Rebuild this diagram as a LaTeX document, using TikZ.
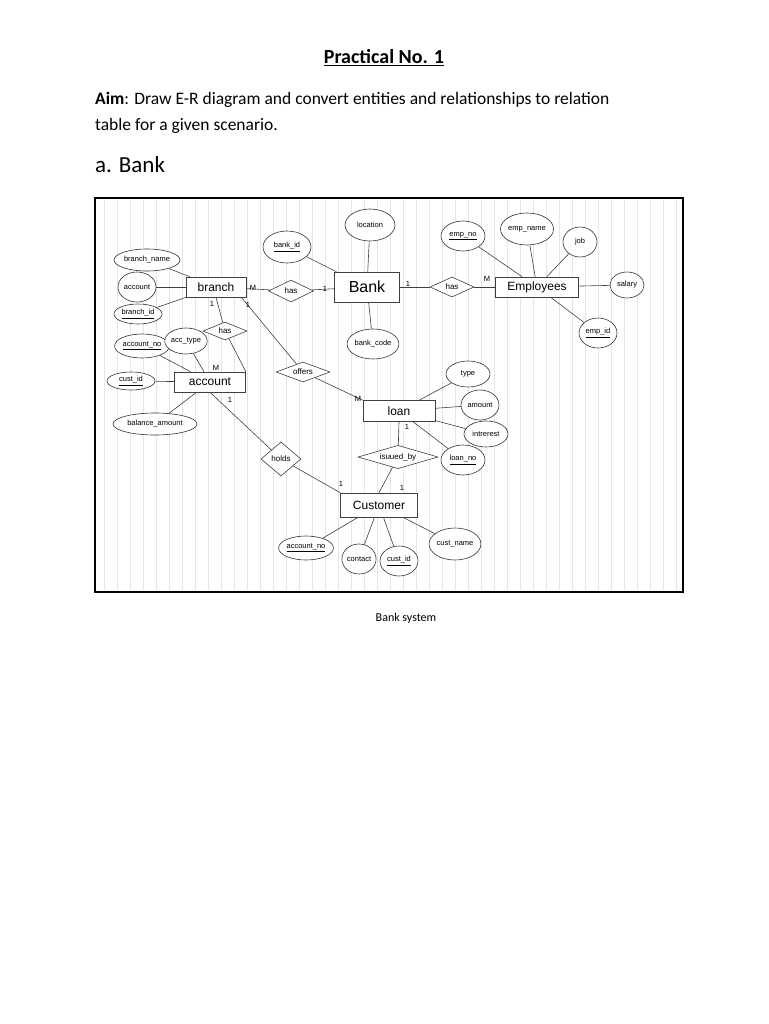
\documentclass[tikz,border=0pt]{standalone}
\usepackage{fontspec}
\setmainfont{Carlito}
\newfontfamily\dfont{Liberation Sans}
\usetikzlibrary{shapes.geometric}
\begin{document}
\begin{tikzpicture}[x=1pt,y=-1pt,
  ent/.style={draw=black!75,fill=white,line width=0.6pt,minimum height=20,inner sep=2,font=\dfont\fontsize{12}{12}\selectfont},
  rel/.style={draw=black!75,fill=white,diamond,aspect=2.3,inner sep=0,line width=0.6pt,font=\dfont\fontsize{8}{8}\selectfont},
  att/.style={draw=black!80,fill=white,ellipse,inner sep=0,line width=0.6pt,font=\dfont\fontsize{7.5}{7.5}\selectfont},
  card/.style={font=\dfont\fontsize{7.5}{7.5}\selectfont,inner sep=0},
  ln/.style={draw=black!75,line width=0.6pt}]
\useasboundingbox (0,0) rectangle (768,1024);
\fill[white] (0,0) rectangle (768,1024);
\node[font=\bfseries\fontsize{20}{20}\selectfont] (title) at (384,58) {\underline{Practical No. 1}};
\node[anchor=west,font=\fontsize{17.5}{17.5}\selectfont,inner sep=0] (aim1) at (95,100) {\textbf{Aim}: Draw E-R diagram and convert entities and relationships to relation};
\node[anchor=west,font=\fontsize{17.5}{17.5}\selectfont,inner sep=0] (aim2) at (95,126) {table for a given scenario.};
\node[anchor=west,font=\fontsize{23}{23}\selectfont,inner sep=0] (sec) at (95,165) {a. Bank};
\node[font=\fontsize{12}{12}\selectfont] (cap) at (406,618) {Bank system};
% frame and grid
\fill[white] (95,198) rectangle (683,592);
\draw[black!10,line width=0.4pt,step=13] (97,200) grid (681,590);
\draw[line width=2.6pt] (95,198) rectangle (683,592);
% entities
\node[ent,minimum width=60] (branch) at (216,287) {branch};
\node[ent,minimum width=65,minimum height=30,font=\dfont\fontsize{16}{16}\selectfont] (bank) at (367,287) {Bank};
\node[ent,minimum width=83] (emp) at (537,287) {Employees};
\node[ent,minimum width=71] (account) at (210,382) {account};
\node[ent,minimum width=72,minimum height=21] (loan) at (399,411) {loan};
\node[ent,minimum width=77,minimum height=24] (cust) at (379,505) {Customer};
% relationships
\node[rel,minimum width=45,minimum height=22] (has1) at (291,291) {has};
\node[rel,minimum width=44,minimum height=20] (has2) at (452,287) {has};
\node[rel,minimum width=44,minimum height=18] (has3) at (225,331) {has};
\node[rel,minimum width=54,minimum height=20] (offers) at (303,372) {offers};
\node[rel,minimum width=40,minimum height=34] (holds) at (281,459) {holds};
\node[rel,minimum width=80,minimum height=18] (issued) at (398,457) {isuued\_by};
% relationship lines
\draw[ln] (branch) -- (has1) -- (bank);
\draw[ln] (bank) -- (has2) -- (emp);
\draw[ln] (branch.south) ++(0,0) coordinate (bs) (bs) -- (has3);
\draw[ln] (has3) -- (account.north east) ++(-18,0);
\draw[ln] (branch.south east) ++(-5,0) coordinate (be) (be) -- (offers) -- (loan.north west);
\draw[ln] (account.south) -- (holds) -- (cust.north west);
\draw[ln] (loan.south) -- (issued) -- (cust.north);
% attributes
\node[att,minimum width=50,minimum height=32] (location) at (370,225) {location};
\node[att,minimum width=48,minimum height=32] (bankid) at (287,247) {\underline{bank\_id}};
\node[att,minimum width=50,minimum height=30] (bankcode) at (373,344) {bank\_code};
\node[att,minimum width=66,minimum height=22] (bname) at (147,260) {branch\_name};
\node[att,minimum width=38,minimum height=30] (bacc) at (137,287) {account};
\node[att,minimum width=48,minimum height=20] (bid) at (138,314) {\underline{branch\_id}};
\node[att,minimum width=48,minimum height=24] (accno) at (142,346) {\underline{account\_no}};
\node[att,minimum width=42,minimum height=26] (acctype) at (186,341) {acc\_type};
\node[att,minimum width=48,minimum height=18] (acid) at (131,381) {\underline{cust\_id}};
\node[att,minimum width=84,minimum height=22] (bal) at (155,424) {balance\_amount};
\node[att,minimum width=44,minimum height=30] (empno) at (463,236) {\underline{emp\_no}};
\node[att,minimum width=50,minimum height=32] (empname) at (527,229) {emp\_name};
\node[att,minimum width=34,minimum height=30] (job) at (580,242) {job};
\node[att,minimum width=34,minimum height=26] (salary) at (627,285) {salary};
\node[att,minimum width=38,minimum height=30] (empid) at (598,333) {\underline{emp\_id}};
\node[att,minimum width=44,minimum height=26] (type) at (468,374) {type};
\node[att,minimum width=38,minimum height=30] (amount) at (480,405) {amount};
\node[att,minimum width=44,minimum height=26] (int) at (486,434) {intrerest};
\node[att,minimum width=44,minimum height=30] (loanno) at (463,460) {\underline{loan\_no}};
\node[att,minimum width=50,minimum height=24] (caccno) at (306,548) {\underline{account\_no}};
\node[att,minimum width=34,minimum height=30] (contact) at (359,559) {contact};
\node[att,minimum width=38,minimum height=30] (cid) at (399,561) {\underline{cust\_id}};
\node[att,minimum width=48,minimum height=32] (cname) at (455,544) {cust\_name};
% attribute lines
\begin{scope}[on background layer/.style={}]
\foreach \a/\e in {location/bank,bankid/bank,bankcode/bank,bname/branch,bacc/branch,bid/branch,accno/account,acctype/account,acid/account,bal/account,empno/emp,empname/emp,job/emp,salary/emp,empid/emp,type/loan,amount/loan,int/loan,loanno/loan,caccno/cust,contact/cust,cid/cust,cname/cust}
  \draw[ln] (\a) -- (\e);
\end{scope}
% cardinalities
\node[card] (c1) at (253,288) {M};
\node[card] (c2) at (325,289) {1};
\node[card] (c3) at (408,284) {1};
\node[card] (c4) at (487,279) {M};
\node[card] (c5) at (212,304) {1};
\node[card] (c6) at (248,305) {1};
\node[card] (c7) at (216,368) {M};
\node[card] (c8) at (230,400) {1};
\node[card] (c9) at (358,399) {M};
\node[card] (c10) at (407,427) {1};
\node[card] (c11) at (341,484) {1};
\node[card] (c12) at (402,488) {1};
\end{tikzpicture}
\end{document}
